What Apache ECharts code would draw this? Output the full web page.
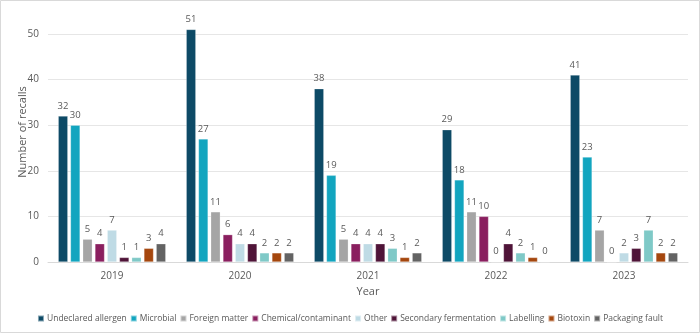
<!DOCTYPE html>
<html>
<head>
<meta charset="utf-8">
<script src="https://cdn.jsdelivr.net/npm/echarts@6/dist/echarts.min.js"></script>
<style>
html, body { margin: 0; padding: 0; background: #fff; }
#chartmain { width: 700px; height: 333px; }
</style>
</head>
<body>
<div id="chartmain"></div>
<script>
// 数据
var years = ['2019', '2020', '2021', '2022', '2023'];
var seriesNames = ['Undeclared allergen', 'Microbial', 'Foreign matter', 'Chemical/contaminant', 'Other',
    'Secondary fermentation', 'Labelling', 'Biotoxin', 'Packaging fault'];
var undeclaredAllergen = [32, 51, 38, 29, 41];
var microbial = [30, 27, 19, 18, 23];
var foreignMatter = [5, 11, 5, 11, 7];
var chemicalContaminant = [4, 6, 4, 10, 0];
var other = [7, 4, 4, 0, 2];
var secondaryFermentation = [1, 4, 4, 4, 3];
var labelling = [1, 2, 3, 2, 7];
var biotoxin = [3, 2, 1, 1, 2];
var packagingFault = [4, 2, 2, 0, 2];
var yTicks = [0, 10, 20, 30, 40, 50];

var values = [undeclaredAllergen, microbial, foreignMatter, chemicalContaminant, other,
    secondaryFermentation, labelling, biotoxin, packagingFault];
var colors = ['#0d4a66', '#12a5bf', '#a5a5a5', '#8a1f5f', '#bfdbe5', '#4f1438', '#7fc9c7', '#a5470e', '#636363'];

var myChart = echarts.init(document.getElementById('chartmain'));

var series = [];
for (var i = 0; i < seriesNames.length; i++) {
    series.push({
        name: seriesNames[i],
        type: 'bar',
        clip: false,
        barGap: '28%',
        barCategoryGap: '16%',
        itemStyle: { color: colors[i], borderColor: 'rgba(255,255,255,0.5)', borderWidth: 0.5 },
        label: {
            show: true,
            position: 'top',
            distance: 5,
            color: '#595959',
            fontSize: 9.5,
            fontFamily: 'Open Sans'
        },
        data: values[i]
    });
}

var option = {
    animation: false,
    color: colors,
    textStyle: { fontFamily: 'Open Sans' },
    graphic: [{
        type: 'rect',
        shape: { x: 0.5, y: 0.5, width: 699, height: 332 },
        style: { fill: 'none', stroke: '#d9d9d9', lineWidth: 1 },
        silent: true
    }],
    grid: { left: 48, right: 12, top: 34, bottom: 71 },
    legend: {
        bottom: 10,
        left: 'center',
        width: 690,
        padding: 0,
        itemWidth: 6,
        itemHeight: 6,
        itemGap: 3,
        icon: 'rect',
        textStyle: {
            color: '#595959', fontSize: 8.5,
            fontFamily: 'Open Sans',
            padding: [0, 0, 0, -2]
        },
        data: seriesNames
    },
    xAxis: {
        type: 'category',
        data: years,
        name: 'Year',
        nameLocation: 'middle',
        nameGap: 24,
        nameTextStyle: { color: '#595959', fontSize: 11 },
        axisLine: { lineStyle: { color: '#d9d9d9' } },
        axisTick: { show: false },
        axisLabel: { color: '#595959', fontSize: 10, margin: 9 }
    },
    yAxis: {
        type: 'value',
        min: yTicks[0],
        max: yTicks[yTicks.length - 1],
        interval: 10,
        name: 'Number of recalls',
        nameLocation: 'middle',
        nameGap: 20,
        nameMoveOverlap: false,
        nameTextStyle: { color: '#595959', fontSize: 11, padding: [0, 0, 0, 32] },
        axisLine: { show: false },
        axisTick: { show: false },
        axisLabel: { color: '#595959', fontSize: 10, margin: 9 },
        splitLine: { lineStyle: { color: '#e6e6e6' } }
    },
    series: series
};

myChart.setOption(option);
window.addEventListener('resize', function () {
    myChart.resize();
});
</script>
</body>
</html>
